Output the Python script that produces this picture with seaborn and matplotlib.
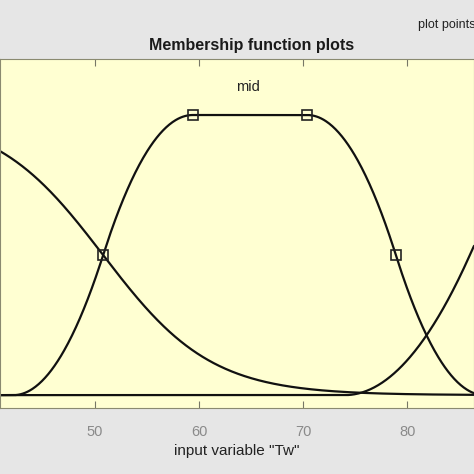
import numpy as np
import pandas as pd
import matplotlib
matplotlib.use("Agg")
import matplotlib.pyplot as plt
import seaborn as sns

sns.set_style("white")
plt.rcParams['font.family'] = ['Liberation Sans', 'DejaVu Sans']

# membership function parameters
low_sig = [0.193, 50.8]            # decreasing sigmoid: slope, center
mid_pi = [42.2, 59.4, 70.4, 87.4]  # pimf a b c d
high_s = [74.0, 98.0]              # smf a b
mid_points_x = [50.8, 59.4, 70.4, 78.9]
mid_points_y = [0.5, 1.0, 1.0, 0.5]
xticks = [50, 60, 70, 80]

x = np.linspace(40.9, 86.4, 600)

def smf(x, a, b):
    m = (a + b) / 2
    y = np.where(x <= a, 0, np.where(x <= m, 2 * ((x - a) / (b - a)) ** 2,
                 np.where(x <= b, 1 - 2 * ((x - b) / (b - a)) ** 2, 1)))
    return y

def zmf(x, a, b):
    return 1 - smf(x, a, b)

low = 1 / (1 + np.exp(low_sig[0] * (x - low_sig[1])))
mid = smf(x, mid_pi[0], mid_pi[1]) * zmf(x, mid_pi[2], mid_pi[3])
high = smf(x, high_s[0], high_s[1])

df = pd.DataFrame({"x": np.tile(x, 3), "mu": np.concatenate([low, mid, high]),
                   "mf": ["low"] * len(x) + ["mid"] * len(x) + ["high"] * len(x)})

fig = plt.figure(figsize=(4.74, 4.74), dpi=100)
fig.patch.set_facecolor("#e6e6e6")
ax = fig.add_axes([0, 1 - 408 / 474, 1, (408 - 59) / 474])
ax.set_facecolor("#ffffd2")
sns.lineplot(data=df, x="x", y="mu", units="mf", estimator=None, color="#111111",
             lw=1.6, ax=ax, legend=False)
ax.plot(mid_points_x, mid_points_y, ls="none", marker="s", ms=6.5, mfc="none",
        mec="#222222", mew=1.2)
ax.set_xlim(40.9, 86.4)
ax.set_ylim(-0.046, 1.2)
ax.set_xticks(xticks)
ax.set_yticks([])
ax.tick_params(axis="x", direction="in", length=5, color="#777766", labelcolor="#8a8a8a",
               labelsize=10.5, top=True, bottom=True, pad=12)
for s in ax.spines.values():
    s.set_color("#8a8a70")
ax.set_xlabel('input variable "Tw"', fontsize=11, color="#222222", labelpad=4)
ax.set_ylabel("")
ax.text(64.7, 1.1, "mid", ha="center", va="center", fontsize=10.5, color="#222222")
fig.text(252 / 474, 1 - 45 / 474, "Membership function plots", ha="center", va="center",
         fontsize=11.5, fontweight="bold", color="#1a1a1a")
fig.text(418 / 474, 1 - 25 / 474, "plot points:", ha="left", va="center", fontsize=9,
         color="#222222")
fig.savefig("out.png", dpi=100, facecolor=fig.get_facecolor())
